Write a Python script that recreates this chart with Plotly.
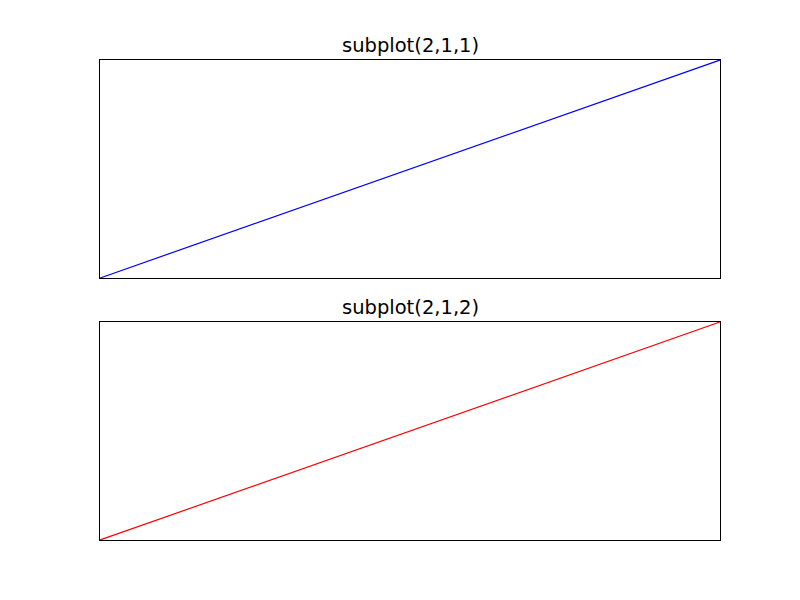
import plotly.graph_objects as go
from plotly.subplots import make_subplots

# Data for the two panels
x_vals = [0, 1]
top_vals = [0, 1]
bottom_vals = [0, 1]
titles = ["subplot(2,1,1)", "subplot(2,1,2)"]

fig = make_subplots(rows=2, cols=1, vertical_spacing=0.0916)

fig.add_trace(go.Scatter(x=x_vals, y=top_vals, mode="lines",
                         line=dict(color="blue", width=1.2)), row=1, col=1)
fig.add_trace(go.Scatter(x=x_vals, y=bottom_vals, mode="lines",
                         line=dict(color="red", width=1.2)), row=2, col=1)

fig.update_xaxes(range=[0, 1], showline=True, mirror=True, linecolor="black",
                 linewidth=1, showgrid=False, zeroline=False,
                 showticklabels=False, ticks="")
fig.update_yaxes(range=[0, 1], showline=True, mirror=True, linecolor="black",
                 linewidth=1, showgrid=False, zeroline=False,
                 showticklabels=False, ticks="")

# Panel titles
for i, t in enumerate(titles):
    yref = "y domain" if i == 0 else "y2 domain"
    fig.add_annotation(text=t, x=0.5, y=1.0, xref="x domain", yref=yref,
                       yanchor="bottom", yshift=1, showarrow=False,
                       font=dict(size=19.5, color="black"))

fig.update_layout(width=800, height=600, showlegend=False,
                  plot_bgcolor="white", paper_bgcolor="white",
                  margin=dict(l=92, r=88, t=52, b=68),
                  font=dict(family="DejaVu Sans"))

fig.write_html("out.html")
